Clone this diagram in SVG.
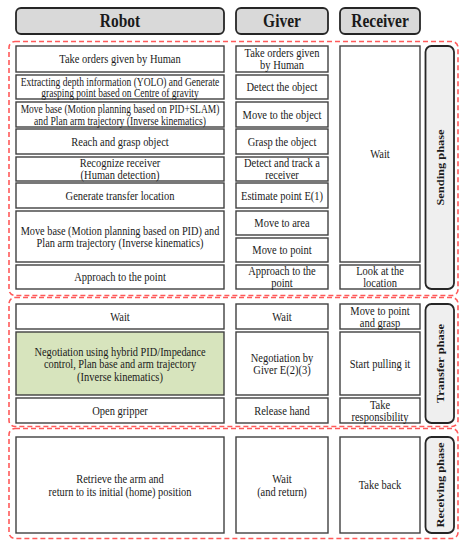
<svg xmlns="http://www.w3.org/2000/svg" width="465" height="550" viewBox="0 0 465 550">
<style>
.hd{fill:#d9d9d9;stroke:#262626;stroke-width:1.8}
.bx{fill:#ffffff;stroke:#404040;stroke-width:1.4}
.gr{fill:#d7e4bd;stroke:#404040;stroke-width:1.4}
.ph{fill:#efefef;stroke:#262626;stroke-width:1.8}
.dash{fill:none;stroke:#ff5a5a;stroke-width:1.6;stroke-dasharray:5 3}
text{font-family:"Liberation Serif","Times New Roman",serif;fill:#1a1a1a;text-anchor:middle}
.h{font-size:18px;font-weight:bold}
.t{font-size:12.2px}
.p{font-size:12.4px;font-weight:bold}
</style>
<rect width="465" height="550" fill="#ffffff"/>

<g id="phases">
<rect class="dash" x="9" y="41.5" width="449" height="254" rx="6"/>
<rect class="dash" x="9" y="297.5" width="449" height="129" rx="6"/>
<rect class="dash" x="9" y="428.5" width="449" height="110" rx="6"/>
</g>

<g id="header-robot"><rect class="hd" x="16" y="8" width="208" height="26" rx="5"/><text class="h" transform="translate(120 27) scale(0.86 1)">Robot</text></g>
<g id="header-giver"><rect class="hd" x="236" y="8" width="92" height="26" rx="5"/><text class="h" transform="translate(282 27) scale(0.86 1)">Giver</text></g>
<g id="header-receiver"><rect class="hd" x="340" y="8" width="80" height="26" rx="5"/><text class="h" transform="translate(380 27) scale(0.86 1)">Receiver</text></g>

<g id="label-sending"><rect class="ph" x="425.5" y="46" width="28.5" height="243" rx="6"/><text class="p" transform="translate(443.5 167.5) scale(0.86 1) rotate(-90)">Sending phase</text></g>
<g id="label-transfer"><rect class="ph" x="425.5" y="304" width="28.5" height="119" rx="6"/><text class="p" transform="translate(443.5 363.5) scale(0.86 1) rotate(-90)">Transfer phase</text></g>
<g id="label-receiving"><rect class="ph" x="425.5" y="437" width="28.5" height="96" rx="6"/><text class="p" transform="translate(443.5 485) scale(0.86 1) rotate(-90)">Receiving phase</text></g>

<!-- Robot column -->
<g id="r1"><rect class="bx" x="16" y="46" width="208" height="26"/><text class="t" transform="translate(120 63.2) scale(0.86 1)">Take orders given by Human</text></g>
<g id="r2"><rect class="bx" x="16" y="75" width="208" height="24"/>
<text class="t" transform="translate(120 85.5) scale(0.86 1)" textLength="231" lengthAdjust="spacingAndGlyphs">Extracting depth information (YOLO) and Generate</text>
<text class="t" transform="translate(120 97.3) scale(0.86 1)" textLength="183" lengthAdjust="spacingAndGlyphs">grasping point based on Centre of gravity</text></g>
<g id="r3"><rect class="bx" x="16" y="102" width="208" height="25"/>
<text class="t" transform="translate(120 112.6) scale(0.86 1)" textLength="231" lengthAdjust="spacingAndGlyphs">Move base (Motion planning based on PID+SLAM)</text>
<text class="t" transform="translate(120 124.6) scale(0.86 1)" textLength="200" lengthAdjust="spacingAndGlyphs">and  Plan arm trajectory (Inverse kinematics)</text></g>
<g id="r4"><rect class="bx" x="16" y="129" width="208" height="25"/><text class="t" transform="translate(120 145.7) scale(0.86 1)">Reach and grasp object</text></g>
<g id="r5"><rect class="bx" x="16" y="157" width="208" height="24"/><text class="t" transform="translate(120 173.2) scale(0.86 1)"><tspan x="0" dy="-6.1">Recognize receiver</tspan><tspan x="0" dy="12.2">(Human detection)</tspan></text></g>
<g id="r6"><rect class="bx" x="16" y="183" width="208" height="25"/><text class="t" transform="translate(120 199.7) scale(0.86 1)">Generate transfer location</text></g>
<g id="r7"><rect class="bx" x="16" y="211" width="208" height="51"/>
<text class="t" transform="translate(120 234.5) scale(0.86 1)" textLength="231" lengthAdjust="spacingAndGlyphs">Move base (Motion planning based on PID) and</text>
<text class="t" transform="translate(120 246.9) scale(0.86 1)" textLength="194" lengthAdjust="spacingAndGlyphs">Plan arm trajectory (Inverse kinematics)</text></g>
<g id="r8"><rect class="bx" x="16" y="265" width="208" height="24"/><text class="t" transform="translate(120 281.2) scale(0.86 1)">Approach to the point</text></g>
<g id="r9"><rect class="bx" x="16" y="304" width="208" height="25"/><text class="t" transform="translate(120 320.7) scale(0.86 1)">Wait</text></g>
<g id="r10"><rect class="gr" x="16" y="332" width="208" height="63"/>
<text class="t" transform="translate(120 355.7) scale(0.86 1)" textLength="199" lengthAdjust="spacingAndGlyphs">Negotiation using hybrid PID/Impedance</text>
<text class="t" transform="translate(120 368.1) scale(0.86 1)" textLength="177" lengthAdjust="spacingAndGlyphs">control, Plan base and arm trajectory</text>
<text class="t" transform="translate(120 380.5) scale(0.86 1)">(Inverse kinematics)</text></g>
<g id="r11"><rect class="bx" x="16" y="398" width="208" height="25"/><text class="t" transform="translate(120 414.7) scale(0.86 1)">Open gripper</text></g>
<g id="r12"><rect class="bx" x="16" y="437" width="208" height="96"/>
<text class="t" transform="translate(120 483.3) scale(0.86 1)">Retrieve the arm and</text>
<text class="t" transform="translate(120 495.7) scale(0.86 1)" textLength="166" lengthAdjust="spacingAndGlyphs">return to its initial (home) position</text></g>

<!-- Giver column -->
<g id="g1"><rect class="bx" x="236" y="46" width="92" height="26"/><text class="t" transform="translate(282 63.2) scale(0.86 1)"><tspan x="0" dy="-6.1">Take orders given</tspan><tspan x="0" dy="12.2">by Human</tspan></text></g>
<g id="g2"><rect class="bx" x="236" y="75" width="92" height="24"/><text class="t" transform="translate(282 91.2) scale(0.86 1)">Detect the object</text></g>
<g id="g3"><rect class="bx" x="236" y="102" width="92" height="25"/><text class="t" transform="translate(282 118.7) scale(0.86 1)">Move to the object</text></g>
<g id="g4"><rect class="bx" x="236" y="129" width="92" height="25"/><text class="t" transform="translate(282 145.7) scale(0.86 1)">Grasp the object</text></g>
<g id="g5"><rect class="bx" x="236" y="157" width="92" height="24"/><text class="t" transform="translate(282 173.2) scale(0.86 1)"><tspan x="0" dy="-6.1">Detect and track a</tspan><tspan x="0" dy="12.2">receiver</tspan></text></g>
<g id="g6"><rect class="bx" x="236" y="183" width="92" height="25"/><text class="t" transform="translate(282 199.7) scale(0.86 1)">Estimate point E(1)</text></g>
<g id="g7"><rect class="bx" x="236" y="211" width="92" height="24"/><text class="t" transform="translate(282 227.2) scale(0.86 1)">Move to area</text></g>
<g id="g8"><rect class="bx" x="236" y="238" width="92" height="24"/><text class="t" transform="translate(282 254.2) scale(0.86 1)">Move to point</text></g>
<g id="g9"><rect class="bx" x="236" y="265" width="92" height="24"/><text class="t" transform="translate(282 281.2) scale(0.86 1)"><tspan x="0" dy="-6.1">Approach to the</tspan><tspan x="0" dy="12.2">point</tspan></text></g>
<g id="g10"><rect class="bx" x="236" y="304" width="92" height="25"/><text class="t" transform="translate(282 320.7) scale(0.86 1)">Wait</text></g>
<g id="g11"><rect class="bx" x="236" y="332" width="92" height="63"/><text class="t" transform="translate(282 367.7) scale(0.86 1)"><tspan x="0" dy="-6.2">Negotiation by</tspan><tspan x="0" dy="12.4">Giver  E(2)(3)</tspan></text></g>
<g id="g12"><rect class="bx" x="236" y="398" width="92" height="25"/><text class="t" transform="translate(282 414.7) scale(0.86 1)">Release hand</text></g>
<g id="g13"><rect class="bx" x="236" y="437" width="92" height="96"/><text class="t" transform="translate(282 489.5) scale(0.86 1)"><tspan x="0" dy="-6.2">Wait</tspan><tspan x="0" dy="12.4">(and return)</tspan></text></g>

<!-- Receiver column -->
<g id="c1"><rect class="bx" x="340" y="46" width="80" height="216"/><text class="t" transform="translate(380 158.2) scale(0.86 1)">Wait</text></g>
<g id="c2"><rect class="bx" x="340" y="265" width="80" height="24"/><text class="t" transform="translate(380 281.2) scale(0.86 1)"><tspan x="0" dy="-6.1">Look at the</tspan><tspan x="0" dy="12.2">location</tspan></text></g>
<g id="c3"><rect class="bx" x="340" y="304" width="80" height="25"/><text class="t" transform="translate(380 320.7) scale(0.86 1)"><tspan x="0" dy="-6.1">Move to point</tspan><tspan x="0" dy="12.2">and grasp</tspan></text></g>
<g id="c4"><rect class="bx" x="340" y="332" width="80" height="63"/><text class="t" transform="translate(380 367.7) scale(0.86 1)">Start pulling it</text></g>
<g id="c5"><rect class="bx" x="340" y="398" width="80" height="25"/><text class="t" transform="translate(380 414.7) scale(0.86 1)"><tspan x="0" dy="-6.1">Take</tspan><tspan x="0" dy="12.2">responsibility</tspan></text></g>
<g id="c6"><rect class="bx" x="340" y="437" width="80" height="96"/><text class="t" transform="translate(380 489.2) scale(0.86 1)">Take  back</text></g>

<g id="connectors"></g>
</svg>
